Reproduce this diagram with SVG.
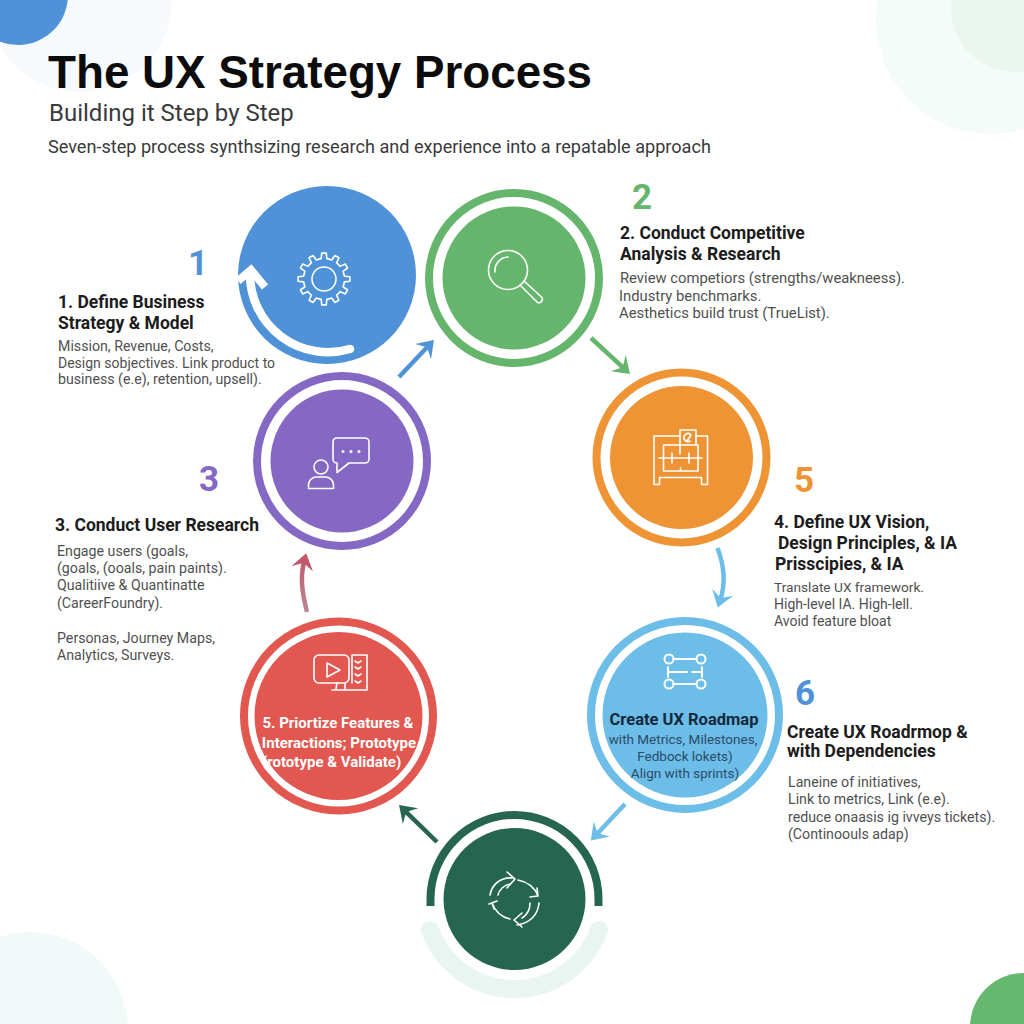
<svg xmlns="http://www.w3.org/2000/svg" width="1024" height="1024" viewBox="0 0 1024 1024">
<style>
text{font-family:Roboto,"Liberation Sans",Arial,sans-serif}
.h{font-size:17.5px;font-weight:700;fill:#1c1c1c}
.b{font-size:14.2px;fill:#505050}
.n{font-size:35px;font-weight:700}
.ic{fill:none;stroke:#fff;stroke-width:1.6;stroke-linejoin:round;stroke-linecap:round}
.ring{fill:none;stroke-width:8}
.c{fill:none;stroke-width:4.5}
</style>
<defs>
<polyline id="tooth" points="-5.3,-19.8 -2.85,-20.3 -2.27,-25.9 2.27,-25.9 2.85,-20.3 5.3,-19.8"/>
<path id="hd" d="M0 0L-16 -11L-10 0L-16 11Z"/>
<marker id="mBlue" markerUnits="userSpaceOnUse" viewBox="-18 -12 20 24" refX="-9" refY="0" markerWidth="20" markerHeight="24" orient="auto"><use href="#hd" fill="#4f92d8"/></marker>
<marker id="mGreen" markerUnits="userSpaceOnUse" viewBox="-18 -12 20 24" refX="-9" refY="0" markerWidth="20" markerHeight="24" orient="auto"><use href="#hd" fill="#66b56c"/></marker>
<marker id="mSky" markerUnits="userSpaceOnUse" viewBox="-18 -12 20 24" refX="-9" refY="0" markerWidth="20" markerHeight="24" orient="auto"><use href="#hd" fill="#6cbde8"/></marker>
<marker id="mDark" markerUnits="userSpaceOnUse" viewBox="-18 -12 20 24" refX="-9" refY="0" markerWidth="20" markerHeight="24" orient="auto"><use href="#hd" fill="#266650"/></marker>
<marker id="mRed" markerUnits="userSpaceOnUse" viewBox="-18 -12 20 24" refX="-9" refY="0" markerWidth="20" markerHeight="24" orient="auto"><use href="#hd" fill="#c2596a"/></marker>
<linearGradient id="fade" gradientUnits="userSpaceOnUse" x1="306" y1="612" x2="304" y2="560"><stop offset="0" stop-color="#b98a94"/><stop offset="1" stop-color="#c2596a"/></linearGradient>
</defs>
<rect width="1024" height="1024" fill="#fff"/>
<g id="background">
<circle cx="80" cy="0" r="92" fill="#f7fafd"/>
<circle cx="18" cy="-5" r="50" fill="#4f92d8"/>
<circle cx="990" cy="20" r="114" fill="#f4fbf9"/>
<circle cx="1015" cy="8" r="64" fill="#ebf7ee"/>
<circle cx="30" cy="1030" r="98" fill="#f1faf8"/>
<circle cx="1024" cy="1027" r="54" fill="#66b86e"/>
</g>
<g id="header">
<text x="48" y="88" font-size="47" font-weight="700" fill="#0c0c0c" style="font-family:'Liberation Sans',Arial,sans-serif" textLength="544" lengthAdjust="spacingAndGlyphs">The UX Strategy Process</text>
<text x="49" y="121" font-size="24" fill="#3a3a3a">Building it Step by Step</text>
<text x="48" y="153" font-size="18.1" fill="#3a3a3a">Seven-step process synthsizing research and experience into a repatable approach</text>
</g>
<g id="connectors">
<path class="c" stroke="#4f92d8" d="M399 377L427.8 346.5" marker-end="url(#mBlue)"/>
<path class="c" stroke="#66b56c" d="M591 338L623.4 367.9" marker-end="url(#mGreen)"/>
<path class="c" stroke="#6cbde8" d="M717.5 548C724 565 726 582 720.5 599" marker-end="url(#mSky)"/>
<path class="c" stroke="#6cbde8" d="M625 804L597 834" marker-end="url(#mSky)"/>
<path class="c" stroke="#266650" d="M437 842L405.5 811.3" marker-end="url(#mDark)"/>
<path class="c" stroke="url(#fade)" d="M307 612C302 592 300 578 304 562" marker-end="url(#mRed)"/>
</g>
<g id="node1">
<circle cx="327" cy="275" r="89" fill="#4f92d8"/>
<path d="M350 349A78 78 0 0 1 250 274" fill="none" stroke="#fff" stroke-width="8.5" stroke-linecap="round"/>
<polyline points="238,281 251,270 265,287" fill="none" stroke="#fff" stroke-width="8"/>
<g class="ic" transform="translate(324 279)">
<circle r="12"/>
<use href="#tooth"/><use href="#tooth" transform="rotate(30)"/><use href="#tooth" transform="rotate(60)"/><use href="#tooth" transform="rotate(90)"/><use href="#tooth" transform="rotate(120)"/><use href="#tooth" transform="rotate(150)"/><use href="#tooth" transform="rotate(180)"/><use href="#tooth" transform="rotate(210)"/><use href="#tooth" transform="rotate(240)"/><use href="#tooth" transform="rotate(270)"/><use href="#tooth" transform="rotate(300)"/><use href="#tooth" transform="rotate(330)"/>
</g>
<text class="n" x="188" y="275" fill="#4f92d8">1</text>
<text class="h" x="58" y="308">1. Define Business</text>
<text class="h" x="58" y="329">Strategy &amp; Model</text>
<text class="b" x="58" y="351">Mission, Revenue, Costs,</text>
<text class="b" x="58" y="368" style="font-size:14px">Design sobjectives. Link product to</text>
<text class="b" x="58" y="384">business (e.e), retention, upsell).</text>
</g>
<g id="node2">
<circle cx="514" cy="278" r="71.5" fill="#66b56c"/>
<circle class="ring" cx="514" cy="278" r="85" stroke="#66b56c"/>
<g class="ic">
<circle cx="508" cy="270" r="19.5"/>
<path d="M495 272A13.5 13.5 0 0 1 508 257"/>
<path d="M520 285L537.5 302.5A3.6 3.6 0 0 0 542 297.5L524 281"/>
</g>
<text class="n" x="632" y="209" fill="#66b56c">2</text>
<text class="h" x="620" y="239">2. Conduct Competitive</text>
<text class="h" x="620" y="260">Analysis &amp; Research</text>
<text class="b" x="620" y="283" style="font-size:14.8px">Review competiors (strengths/weakneess).</text>
<text class="b" x="619" y="301" style="font-size:14.8px">Industry benchmarks.</text>
<text class="b" x="619" y="318" style="font-size:14.8px">Aesthetics build trust (TrueList).</text>
</g>
<g id="node3">
<circle cx="342" cy="461" r="71.5" fill="#8468c4"/>
<circle class="ring" cx="342" cy="461" r="85" stroke="#8468c4"/>
<g class="ic">
<circle cx="321" cy="467" r="7"/>
<path d="M308.5 488.5V485A8 8 0 0 1 316 477H326A8 8 0 0 1 333.5 485V488.5Z"/>
<path d="M337 438H365A4 4 0 0 1 369 442V459A4 4 0 0 1 365 463H349L337 472.500V463A4 4 0 0 1 333 459V442A4 4 0 0 1 337 438Z"/>
</g>
<g fill="#fff"><circle cx="343" cy="451.500" r="1.500"/><circle cx="351" cy="451.500" r="1.500"/><circle cx="359" cy="451.500" r="1.500"/></g>
<text class="n" x="199" y="491" fill="#8468c4">3</text>
<text class="h" x="55" y="531">3. Conduct User Research</text>
<text class="b" x="57" y="556">Engage users (goals,</text>
<text class="b" x="57" y="573">(goals, (ooals, pain paints).</text>
<text class="b" x="57" y="590">Qualitiive &amp; Quantinatte</text>
<text class="b" x="57" y="608">(CareerFoundry).</text>
<text class="b" x="57" y="643">Personas, Journey Maps,</text>
<text class="b" x="57" y="660">Analytics, Surveys.</text>
</g>
<g id="node4">
<circle cx="681.500" cy="457.500" r="71.500" fill="#ee9434"/>
<circle class="ring" cx="681.500" cy="457.500" r="85" stroke="#ee9434"/>
<g class="ic">
<path d="M680 436H654V484.500H659.500V477.500H701.500V484.500H707.500V436H696"/>
<path d="M680 445H663.500V471H698V445H696"/>
<rect x="680" y="430" width="16" height="15"/>
<path d="M680 445V454M659 458H702M672 453V463M689 453V463M680.500 468V471"/>
<path d="M691 435A4 4 0 1 0 690 441M687 441L691 435"/>
</g>
<text class="n" x="794" y="492" fill="#ee9434">5</text>
<text class="h" x="774" y="528">4. Define UX Vision,</text>
<text class="h" x="778" y="549">Design Principles, &amp; IA</text>
<text class="h" x="775" y="570">Prisscipies, &amp; IA</text>
<text class="b" x="774" y="592" style="font-size:13.7px">Translate UX framework.</text>
<text class="b" x="774" y="609" style="font-size:14px">High-level IA. High-lell.</text>
<text class="b" x="774" y="626" style="font-size:14px">Avoid feature bloat</text>
</g>
<g id="node5">
<circle cx="685" cy="715" r="82.500" fill="#6cbde8"/>
<circle class="ring" cx="685" cy="715" r="94" stroke="#6cbde8"/>
<g class="ic" style="stroke-width:2">
<circle cx="669" cy="659" r="4.500"/><circle cx="701" cy="659" r="4.500"/>
<circle cx="669" cy="684" r="4.500"/><circle cx="701" cy="684" r="4.500"/>
<path d="M673.500 659H696.500M673.500 684H696.500M668 667V677M702 667V677M668 672H687M692 672H702"/>
</g>
<text x="684" y="725" text-anchor="middle" font-size="16.500" font-weight="700" fill="#14293c">Create UX Roadmap</text>
<g font-size="13.500" fill="#2b4c68" text-anchor="middle">
<text x="683" y="744">with Metrics, Milestones,</text>
<text x="685" y="761">Fedbock lokets)</text>
<text x="685" y="778">Align with sprints)</text>
</g>
<text class="n" x="795" y="705" fill="#4f92d8">6</text>
<text class="h" x="787" y="738">Create UX Roadrmop &amp;</text>
<text class="h" x="787" y="757">with Dependencies</text>
<text class="b" x="788" y="787">Laneine of initiatives,</text>
<text class="b" x="788" y="804">Link to metrics, Link (e.e).</text>
<text class="b" x="788" y="822">reduce onaasis ig ivveys tickets).</text>
<text class="b" x="788" y="839">(Continoouls adap)</text>
</g>
<g id="node6">
<circle cx="338.500" cy="716" r="84" fill="#e2574f"/>
<circle class="ring" cx="338.500" cy="716" r="94.500" stroke="#e2574f"/>
<g class="ic">
<rect x="314" y="655" width="35" height="28" rx="5"/>
<path d="M327 663L340 670L327 677Z"/>
<path d="M337 683L336 689M345 683V689M332 690H367V655H352V683"/>
<path d="M355 661L358 663L361 661M355 667L358 669L361 667M355 674L358 676L361 674M355 681L358 683L361 681"/>
</g>
<g font-size="15" font-weight="700" fill="#fff">
<text x="338" y="728" text-anchor="middle">5. Priortize Features &amp;</text>
<text x="339" y="748" text-anchor="middle">Interactions; Prototype</text>
<text x="262" y="767">(rototype &amp; Validate)</text>
</g>
</g>
<g id="node7">
<circle cx="514.500" cy="899" r="71" fill="#266650"/>
<path d="M430.500 906V899A84 84 0 0 1 598.500 899V906" fill="none" stroke="#266650" stroke-width="8"/>
<path d="M430 930A90 90 0 0 0 599 930" fill="none" stroke="#e9f5f0" stroke-width="18" stroke-linecap="round"/>
<g class="ic">
<path d="M490 895C492 884 501 877 513 878M507 872L515 879L507 888"/>
<path d="M498 895C499 890 504 885 510 884"/>
<path d="M518 880C528 882 535 888 538 896M530 897L538 896L537 888"/>
<path d="M539 903C538 915 530 923 517 925M514 920L522 927M514 920L522 913"/>
<path d="M530 903C530 910 527 915 522 918"/>
<path d="M510 919C501 917 495 911 492 903M489 904L497 901M492 903L494 909"/>
</g>
</g>
</svg>
